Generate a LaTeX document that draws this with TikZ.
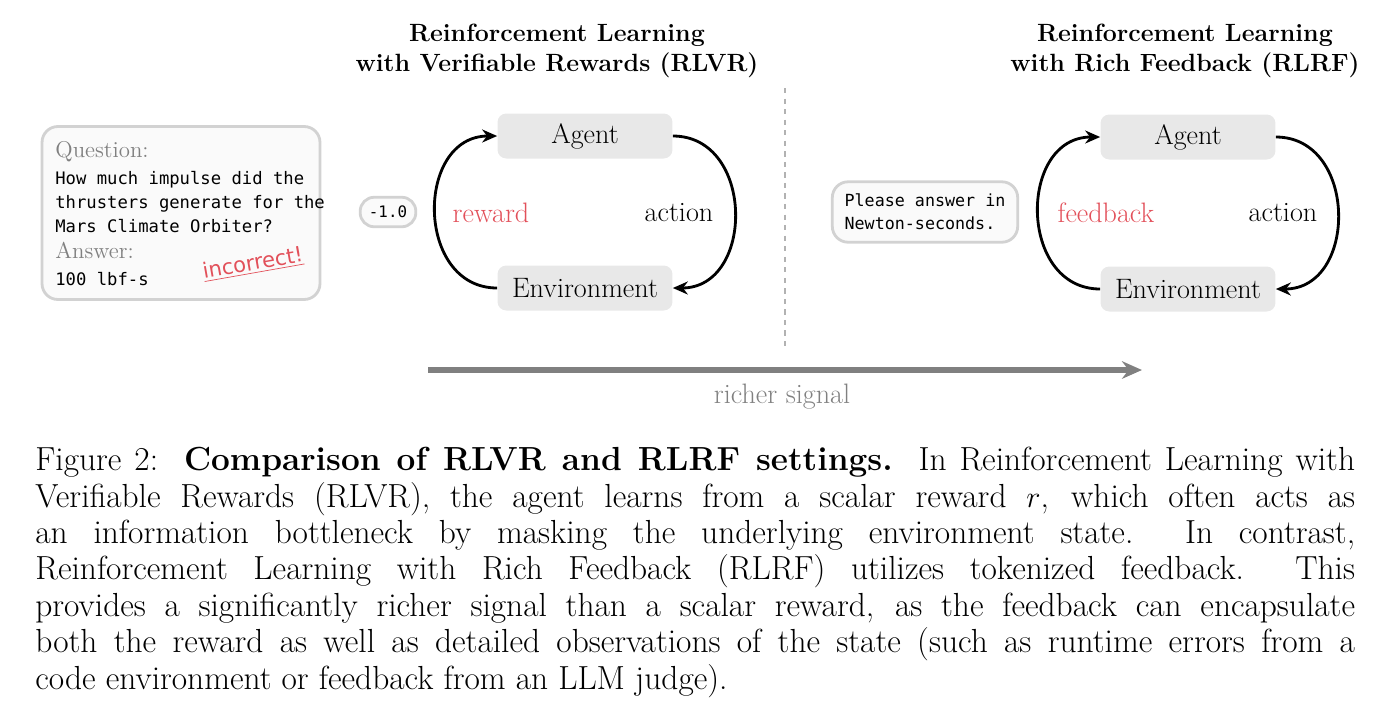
\documentclass[tikz,border=0pt]{standalone}
\usepackage{fontspec}
\newfontfamily\monofont{DejaVu Sans Mono}
\newfontfamily\handfont{DejaVu Sans}
\usetikzlibrary{positioning,arrows.meta}
\definecolor{boxgray}{RGB}{232,232,232}
\definecolor{rewardred}{RGB}{226,80,90}
\tikzset{
    block/.style={rectangle, rounded corners=5pt, fill=boxgray, minimum width=3.5cm, minimum height=0.9cm, font=\fontsize{16}{18}\selectfont},
    msg/.style={rectangle, rounded corners=9pt, draw=gray!35, line width=1.6pt, fill=gray!4, align=left, font=\monofont\fontsize{9.5}{13}\selectfont},
    loop/.style={-{Stealth[length=3mm,width=2.6mm]}, line width=1.6pt},
    lbl/.style={font=\fontsize{16}{18}\selectfont},
    title/.style={align=center, font=\bfseries\fontsize{14.2}{17}\selectfont}
}
\begin{document}
\begin{tikzpicture}[x=0.02cm,y=-0.02cm]
        \useasboundingbox (0,0) rectangle (1397,718);
        % titles
        \node[title] (t1) at (557,51) {Reinforcement Learning\\with Verifiable Rewards (RLVR)};
        \node[title] (t2) at (1185,51) {Reinforcement Learning\\with Rich Feedback (RLRF)};
        % question card
        \node[msg, minimum width=5.56cm, minimum height=3.46cm, text width=5.1cm] (q) at (181,213) {};
        \node[anchor=north west, text=gray, font=\fontsize{13}{15}\selectfont, inner sep=0] (qh) at (55,141) {Question:};
        \node[anchor=north west, align=left, inner sep=0, font=\monofont\fontsize{9.8}{13.6}\selectfont] (qt) at (55,171) {How much impulse did the\\thrusters generate for the\\Mars Climate Orbiter?};
        \node[anchor=north west, text=gray, font=\fontsize{13}{15}\selectfont, inner sep=0] (ah) at (55,242) {Answer:};
        \node[anchor=north west, inner sep=0, font=\monofont\fontsize{9.8}{13}\selectfont] (at) at (55,272) {100 lbf-s};
        \node[rotate=10, text=rewardred, font=\handfont\fontsize{12}{14}\selectfont, inner sep=1pt] (inc) at (253,264) {\underline{incorrect!}};
        \node[msg, rounded corners=8pt, inner sep=5pt, font=\monofont\fontsize{9}{10}\selectfont] (r) at (388,212) {-1.0};
        % left loop
        \node[block] (ag1) at (585,136) {Agent};
        \node[block] (env1) at (585,288) {Environment};
        \draw[loop] (env1.west) .. controls (415,288) and (415,136) .. (ag1.west);
        \draw[loop] (ag1.east) .. controls (755,136) and (755,288) .. (env1.east);
        \node[lbl, text=rewardred] (rw) at (491,213) {reward};
        \node[lbl] (ac1) at (679,213) {action};
        % divider
        \coordinate (d1) at (785,88);
        \coordinate (d2) at (785,348);
        \draw[dashed, gray!60, line width=0.8pt] (d1) -- (d2);
        % right loop
        \node[msg, inner sep=7pt] (fb) at (925,212) {Please answer in\\Newton-seconds.};
        \node[block] (ag2) at (1188,137) {Agent};
        \node[block] (env2) at (1188,289) {Environment};
        \draw[loop] (env2.west) .. controls (1018,289) and (1018,137) .. (ag2.west);
        \draw[loop] (ag2.east) .. controls (1358,137) and (1358,289) .. (env2.east);
        \node[lbl, text=rewardred] (fd) at (1106,213) {feedback};
        \node[lbl] (ac2) at (1283,213) {action};
        % signal arrow
        \coordinate (s1) at (428,370);
        \coordinate (s2) at (1142,370);
        \draw[-{Stealth[length=4mm,width=3.5mm]}, gray, line width=3pt] (s1) -- (s2);
        \node[lbl, text=gray] (rs) at (782,397) {richer signal};
        % caption
        \node[anchor=north west, inner sep=0, text width=26.4cm, align=justify, font=\fontsize{19}{20.7}\selectfont] (cap) at (35,447) {\hyphenpenalty=10000 Figure 2:\ \ \textbf{Comparison of RLVR and RLRF settings.}\ \ In Reinforcement Learning with\linebreak Verifiable Rewards (RLVR), the agent learns from a scalar reward $r$, which often acts as\linebreak an information bottleneck by masking the underlying environment state.\ \ In contrast,\linebreak Reinforcement Learning with Rich Feedback (RLRF) utilizes tokenized feedback.\ \ This\linebreak provides a significantly richer signal than a scalar reward, as the feedback can encapsulate\linebreak both the reward as well as detailed observations of the state (such as runtime errors from a\linebreak code environment or feedback from an LLM judge).};
\end{tikzpicture}
\end{document}
